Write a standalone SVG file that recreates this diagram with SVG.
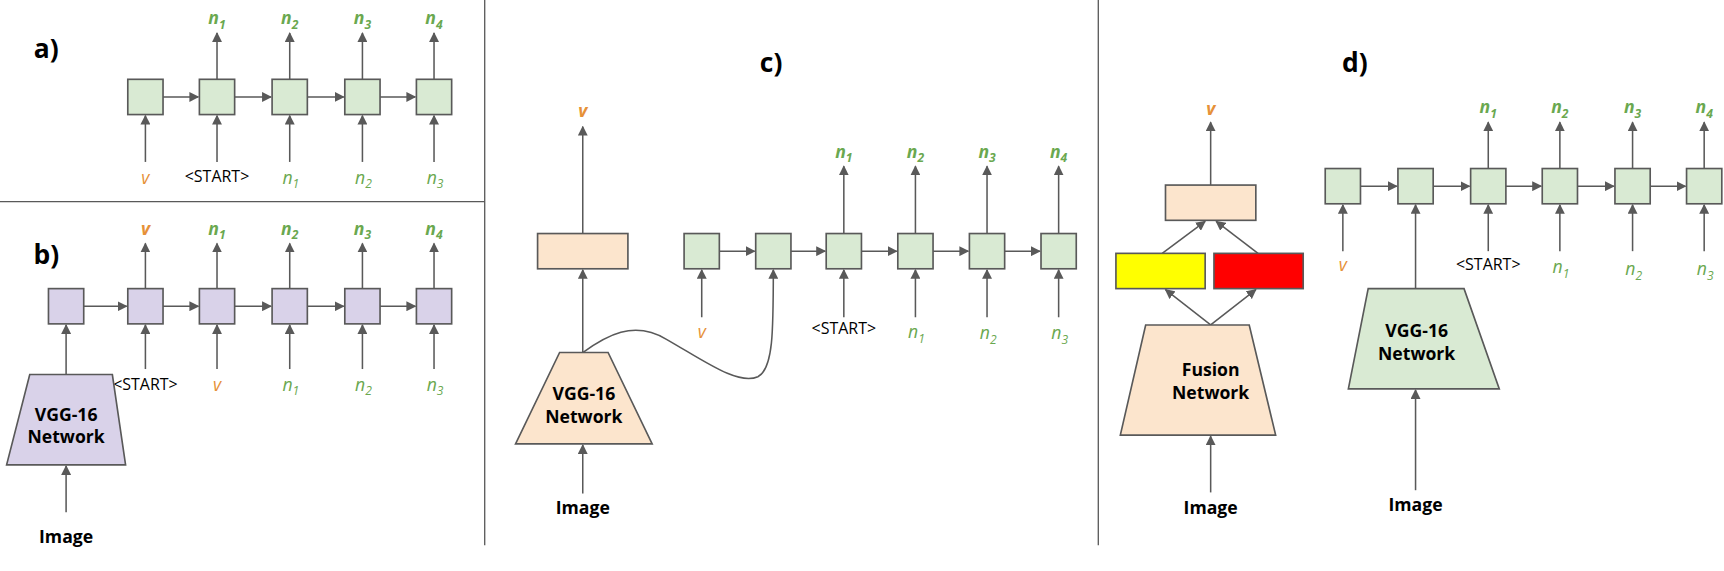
<svg xmlns="http://www.w3.org/2000/svg" width="1724" height="571" viewBox="0 0 1724 571">
<defs>
<marker id="ah" viewBox="0 0 10 10" refX="9" refY="5" markerWidth="9" markerHeight="9" markerUnits="userSpaceOnUse" orient="auto"><path d="M0,0 L10,5 L0,10 z" fill="#595959"/></marker>
<style>
.g{fill:#d9ead3;stroke:#595959;stroke-width:1.5}
.p{fill:#d9d2e9;stroke:#595959;stroke-width:1.5}
.o{fill:#fce5cd;stroke:#595959;stroke-width:1.5}
.c line,.c path{stroke:#595959;stroke-width:1.4;fill:none;marker-end:url(#ah)}
.sep{stroke:#595959;stroke-width:1.2}
text{font-family:"Open Sans","DejaVu Sans",sans-serif;text-anchor:middle}
.pl{font-size:24px;font-weight:bold;fill:#000}
.no{font-size:16px;font-weight:bold;font-style:italic;fill:#6aa84f}
.ni{font-size:16px;font-style:italic;fill:#6aa84f}
.vo{font-size:16px;font-weight:bold;font-style:italic;fill:#e69138}
.vi{font-size:16px;font-style:italic;fill:#e69138}
.st{font-size:14.5px;fill:#000}
.bt{font-size:16px;font-weight:bold;fill:#000}
.s{font-size:11px}
</style>
</defs>
<rect width="1724" height="571" fill="#fff"/>
<g transform="scale(1.1016)">
<g id="separators">
<line class="sep" x1="440" y1="0" x2="440" y2="495"/>
<line class="sep" x1="997" y1="0" x2="997" y2="495"/>
<line class="sep" x1="0" y1="183" x2="440" y2="183"/>
</g>
<g id="connectors" class="c">
<line x1="148" y1="88" x2="180" y2="88"/><line x1="213" y1="88" x2="246" y2="88"/><line x1="279" y1="88" x2="312" y2="88"/><line x1="345" y1="88" x2="377" y2="88"/>
<line x1="132" y1="147" x2="132" y2="105"/><line x1="197" y1="147" x2="197" y2="105"/><line x1="263" y1="147" x2="263" y2="105"/><line x1="329" y1="147" x2="329" y2="105"/><line x1="394" y1="147" x2="394" y2="105"/>
<line x1="197" y1="72" x2="197" y2="30"/><line x1="263" y1="72" x2="263" y2="30"/><line x1="329" y1="72" x2="329" y2="30"/><line x1="394" y1="72" x2="394" y2="30"/>
<line x1="76" y1="278" x2="115" y2="278"/><line x1="148" y1="278" x2="180" y2="278"/><line x1="213" y1="278" x2="246" y2="278"/><line x1="279" y1="278" x2="312" y2="278"/><line x1="345" y1="278" x2="377" y2="278"/>
<line x1="60" y1="340" x2="60" y2="295"/>
<line x1="132" y1="335" x2="132" y2="295"/><line x1="197" y1="335" x2="197" y2="295"/><line x1="263" y1="335" x2="263" y2="295"/><line x1="329" y1="335" x2="329" y2="295"/><line x1="394" y1="335" x2="394" y2="295"/>
<line x1="132" y1="262" x2="132" y2="221"/><line x1="197" y1="262" x2="197" y2="221"/><line x1="263" y1="262" x2="263" y2="221"/><line x1="329" y1="262" x2="329" y2="221"/><line x1="394" y1="262" x2="394" y2="221"/>
<line x1="60" y1="465" x2="60" y2="423"/>
<line x1="529" y1="212" x2="529" y2="115"/>
<line x1="529" y1="320" x2="529" y2="245"/>
<path d="M529,320 C550,305 575,290 605,308 C640,328 670,350 688,342 C702,335 702,300 702,245"/>
<line x1="653" y1="228" x2="685" y2="228"/><line x1="718" y1="228" x2="749" y2="228"/><line x1="782" y1="228" x2="814" y2="228"/><line x1="847" y1="228" x2="879" y2="228"/><line x1="912" y1="228" x2="944" y2="228"/>
<line x1="637" y1="288" x2="637" y2="245"/><line x1="766" y1="288" x2="766" y2="245"/><line x1="831" y1="288" x2="831" y2="245"/><line x1="896" y1="288" x2="896" y2="245"/><line x1="961" y1="288" x2="961" y2="245"/>
<line x1="766" y1="212" x2="766" y2="151"/><line x1="831" y1="212" x2="831" y2="151"/><line x1="896" y1="212" x2="896" y2="151"/><line x1="961" y1="212" x2="961" y2="151"/>
<line x1="529" y1="448" x2="529" y2="404"/>
<line x1="1099" y1="168" x2="1099" y2="111"/>
<line x1="1055" y1="230" x2="1094" y2="201"/><line x1="1142" y1="230" x2="1104" y2="201"/>
<line x1="1099" y1="295" x2="1058" y2="263"/><line x1="1099" y1="295" x2="1140" y2="263"/>
<line x1="1099" y1="447" x2="1099" y2="396"/>
<line x1="1235" y1="169" x2="1268" y2="169"/><line x1="1301" y1="169" x2="1334" y2="169"/><line x1="1367" y1="169" x2="1399" y2="169"/><line x1="1432" y1="169" x2="1465" y2="169"/><line x1="1498" y1="169" x2="1530" y2="169"/>
<line x1="1219" y1="228" x2="1219" y2="186"/><line x1="1285" y1="262" x2="1285" y2="186"/><line x1="1351" y1="228" x2="1351" y2="186"/><line x1="1416" y1="228" x2="1416" y2="186"/><line x1="1482" y1="228" x2="1482" y2="186"/><line x1="1547" y1="228" x2="1547" y2="186"/>
<line x1="1351" y1="153" x2="1351" y2="111"/><line x1="1416" y1="153" x2="1416" y2="111"/><line x1="1482" y1="153" x2="1482" y2="111"/><line x1="1547" y1="153" x2="1547" y2="111"/>
<line x1="1285" y1="445" x2="1285" y2="354"/>
</g>
<g id="panel-a">
<text class="pl" x="42" y="53">a)</text>
<rect class="g" x="116" y="72" width="32" height="32"/><rect class="g" x="181" y="72" width="32" height="32"/><rect class="g" x="247" y="72" width="32" height="32"/><rect class="g" x="313" y="72" width="32" height="32"/><rect class="g" x="378" y="72" width="32" height="32"/>
<text class="no" x="197" y="22">n<tspan class="s" dy="4">1</tspan></text>
<text class="no" x="263" y="22">n<tspan class="s" dy="4">2</tspan></text>
<text class="no" x="329" y="22">n<tspan class="s" dy="4">3</tspan></text>
<text class="no" x="394" y="22">n<tspan class="s" dy="4">4</tspan></text>
<text class="vi" x="132" y="167">v</text>
<text class="st" x="197" y="165">&lt;START&gt;</text>
<text class="ni" x="264" y="167">n<tspan class="s" dy="4">1</tspan></text>
<text class="ni" x="330" y="167">n<tspan class="s" dy="4">2</tspan></text>
<text class="ni" x="395" y="167">n<tspan class="s" dy="4">3</tspan></text>
</g>
<g id="panel-b">
<text class="pl" x="42" y="240">b)</text>
<rect class="p" x="44" y="262" width="32" height="32"/><rect class="p" x="116" y="262" width="32" height="32"/><rect class="p" x="181" y="262" width="32" height="32"/><rect class="p" x="247" y="262" width="32" height="32"/><rect class="p" x="313" y="262" width="32" height="32"/><rect class="p" x="378" y="262" width="32" height="32"/>
<text class="vo" x="132" y="213">v</text>
<text class="no" x="197" y="213">n<tspan class="s" dy="4">1</tspan></text>
<text class="no" x="263" y="213">n<tspan class="s" dy="4">2</tspan></text>
<text class="no" x="329" y="213">n<tspan class="s" dy="4">3</tspan></text>
<text class="no" x="394" y="213">n<tspan class="s" dy="4">4</tspan></text>
<text class="st" x="132" y="354">&lt;START&gt;</text>
<text class="vi" x="197" y="355">v</text>
<text class="ni" x="264" y="355">n<tspan class="s" dy="4">1</tspan></text>
<text class="ni" x="330" y="355">n<tspan class="s" dy="4">2</tspan></text>
<text class="ni" x="395" y="355">n<tspan class="s" dy="4">3</tspan></text>
<polygon class="p" points="27,340 102,340 114,422 6,422"/>
<text class="bt" x="60" y="382">VGG-16</text>
<text class="bt" x="60" y="402">Network</text>
<text class="bt" x="60" y="493">Image</text>
</g>
<g id="panel-c">
<text class="pl" x="700" y="65">c)</text>
<rect class="o" x="488" y="212" width="82" height="32"/>
<text class="vo" x="529" y="106">v</text>
<polygon class="o" points="508,320 552,320 592,403 468,403"/>
<text class="bt" x="530" y="363">VGG-16</text>
<text class="bt" x="530" y="384">Network</text>
<text class="bt" x="529" y="467">Image</text>
<rect class="g" x="621" y="212" width="32" height="32"/><rect class="g" x="686" y="212" width="32" height="32"/><rect class="g" x="750" y="212" width="32" height="32"/><rect class="g" x="815" y="212" width="32" height="32"/><rect class="g" x="880" y="212" width="32" height="32"/><rect class="g" x="945" y="212" width="32" height="32"/>
<text class="no" x="766" y="143">n<tspan class="s" dy="4">1</tspan></text>
<text class="no" x="831" y="143">n<tspan class="s" dy="4">2</tspan></text>
<text class="no" x="896" y="143">n<tspan class="s" dy="4">3</tspan></text>
<text class="no" x="961" y="143">n<tspan class="s" dy="4">4</tspan></text>
<text class="vi" x="637" y="307">v</text>
<text class="st" x="766" y="303">&lt;START&gt;</text>
<text class="ni" x="832" y="307">n<tspan class="s" dy="4">1</tspan></text>
<text class="ni" x="897" y="308">n<tspan class="s" dy="4">2</tspan></text>
<text class="ni" x="962" y="308">n<tspan class="s" dy="4">3</tspan></text>
</g>
<g id="panel-d">
<text class="pl" x="1230" y="65">d)</text>
<rect class="o" x="1058" y="168" width="82" height="32"/>
<text class="vo" x="1099" y="104">v</text>
<rect x="1013" y="230" width="81" height="32" fill="#ffff00" stroke="#595959" stroke-width="1.5"/>
<rect x="1102" y="230" width="81" height="32" fill="#ff0000" stroke="#595959" stroke-width="1.5"/>
<polygon class="o" points="1040,295 1134,295 1158,395 1017,395"/>
<text class="bt" x="1099" y="341">Fusion</text>
<text class="bt" x="1099" y="362">Network</text>
<text class="bt" x="1099" y="467">Image</text>
<rect class="g" x="1203" y="153" width="32" height="32"/><rect class="g" x="1269" y="153" width="32" height="32"/><rect class="g" x="1335" y="153" width="32" height="32"/><rect class="g" x="1400" y="153" width="32" height="32"/><rect class="g" x="1466" y="153" width="32" height="32"/><rect class="g" x="1531" y="153" width="32" height="32"/>
<text class="no" x="1351" y="103">n<tspan class="s" dy="4">1</tspan></text>
<text class="no" x="1416" y="103">n<tspan class="s" dy="4">2</tspan></text>
<text class="no" x="1482" y="103">n<tspan class="s" dy="4">3</tspan></text>
<text class="no" x="1547" y="103">n<tspan class="s" dy="4">4</tspan></text>
<text class="vi" x="1219" y="246">v</text>
<text class="st" x="1351" y="245">&lt;START&gt;</text>
<text class="ni" x="1417" y="248">n<tspan class="s" dy="4">1</tspan></text>
<text class="ni" x="1483" y="250">n<tspan class="s" dy="4">2</tspan></text>
<text class="ni" x="1548" y="250">n<tspan class="s" dy="4">3</tspan></text>
<polygon class="g" points="1242,262 1329,262 1361,353 1224,353"/>
<text class="bt" x="1286" y="306">VGG-16</text>
<text class="bt" x="1286" y="327">Network</text>
<text class="bt" x="1285" y="464">Image</text>
</g>
</g>
</svg>
